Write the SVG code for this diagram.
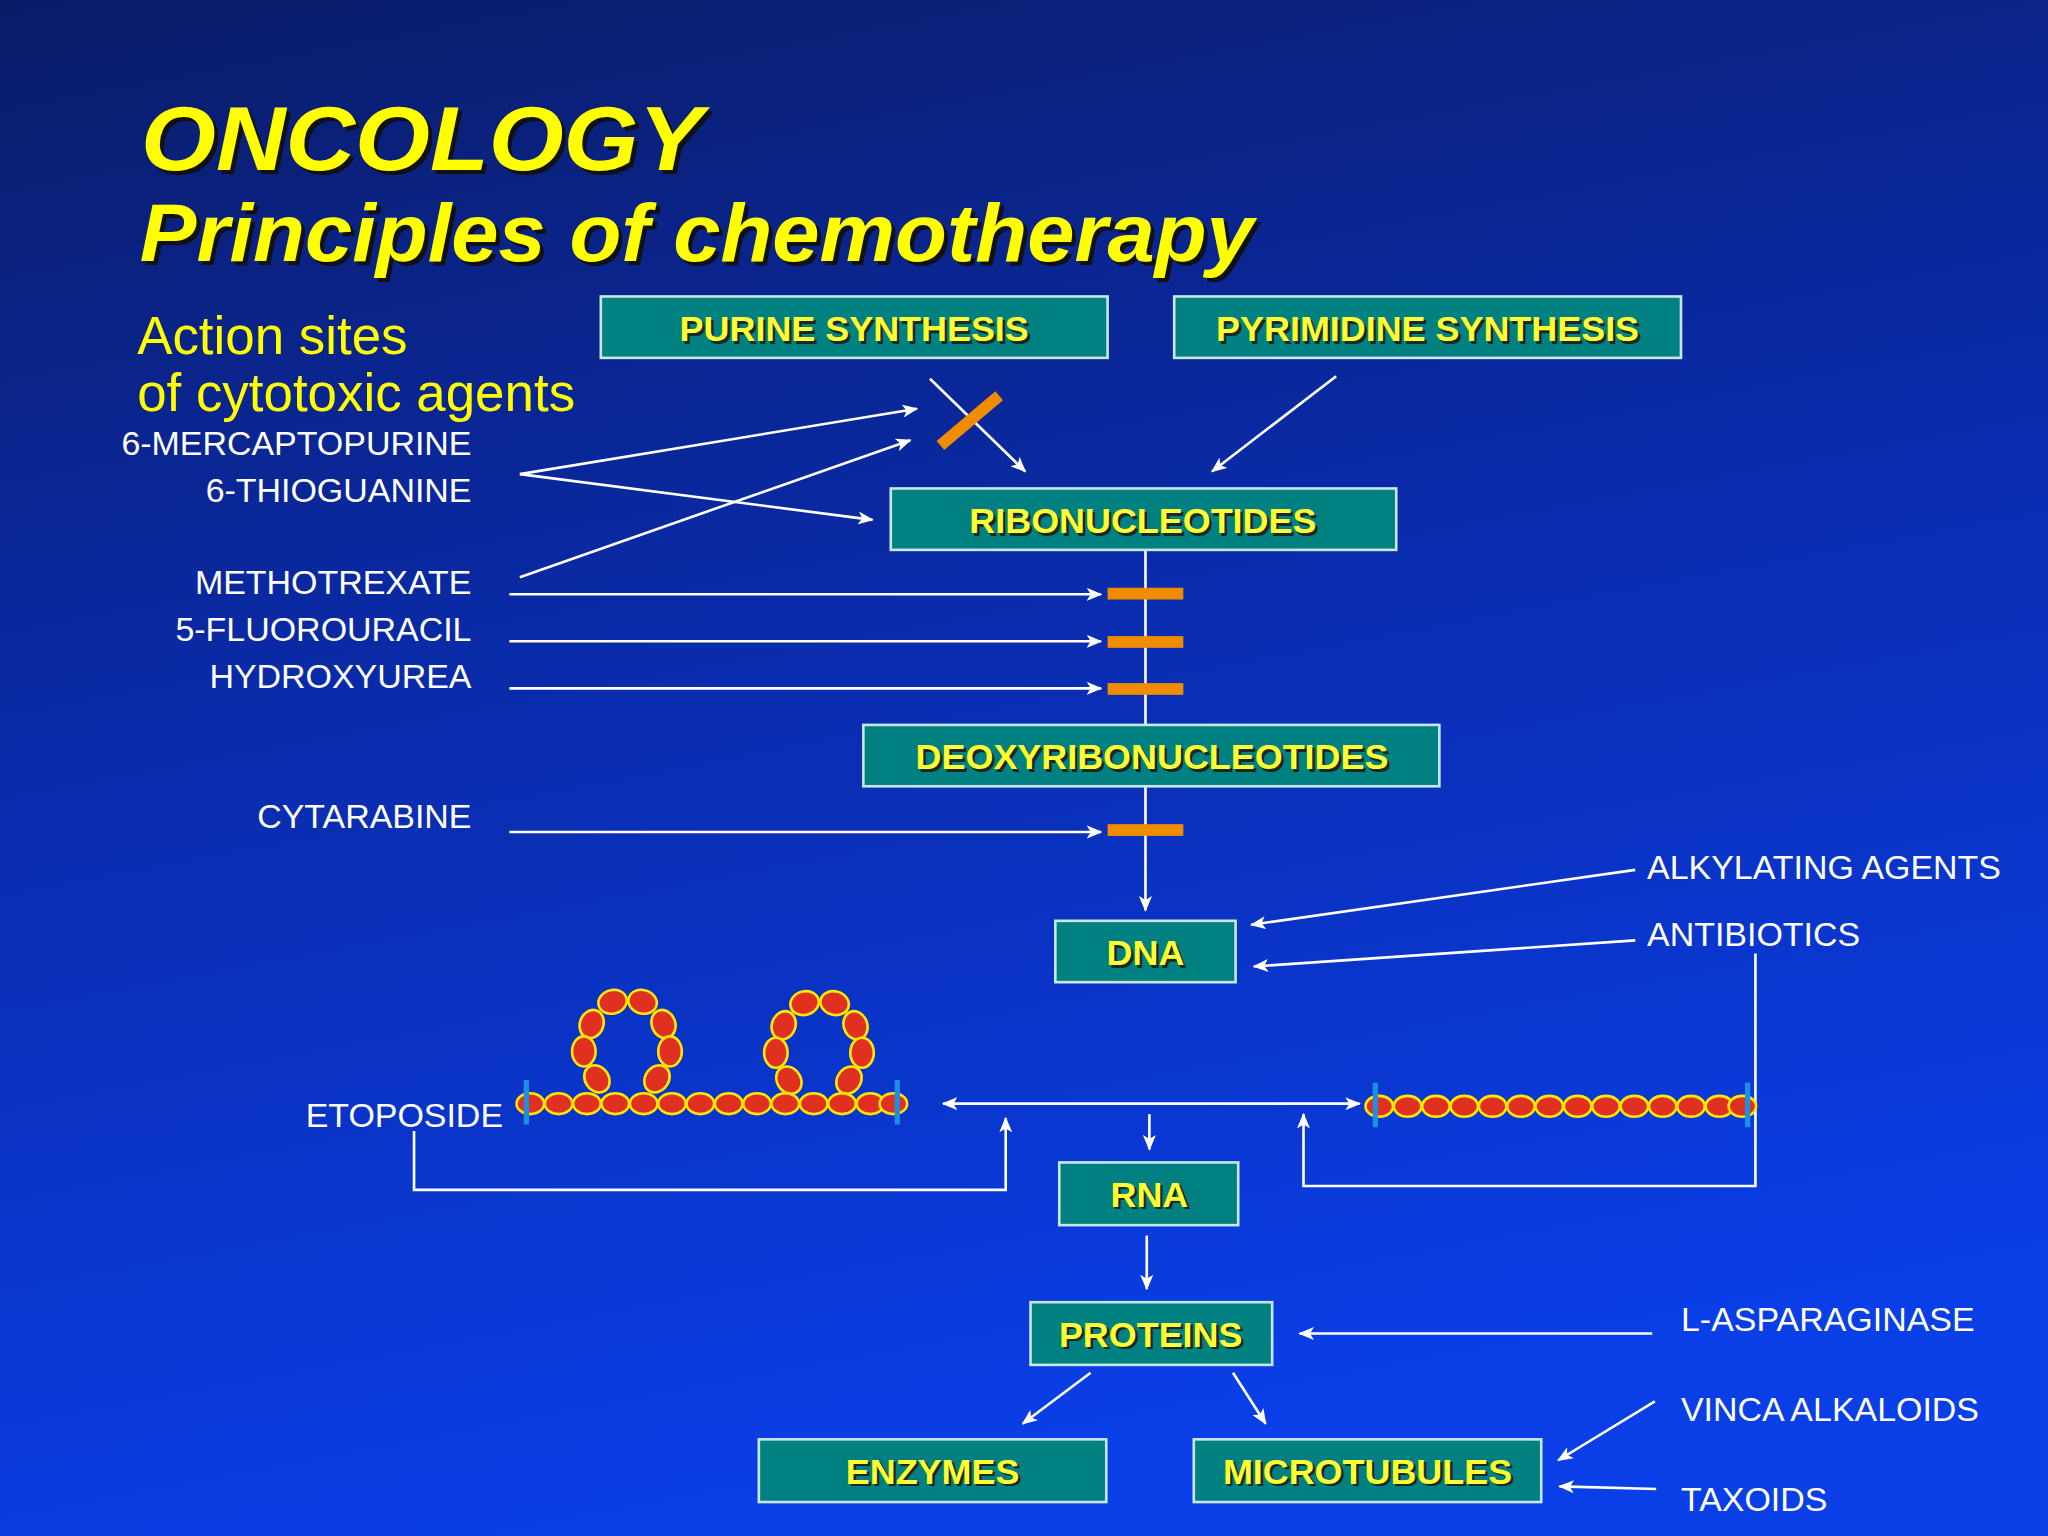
<svg xmlns="http://www.w3.org/2000/svg" width="2048" height="1536" viewBox="0 0 2048 1536">
<defs>
<linearGradient id="bg" x1="0" y1="0" x2="0.25" y2="1">
<stop offset="0" stop-color="#0a1c68"/>
<stop offset="0.5" stop-color="#0a2cae"/>
<stop offset="1" stop-color="#0a3ee6"/>
</linearGradient>
<marker id="ah" viewBox="0 0 12 10" refX="11" refY="5" markerWidth="12" markerHeight="10" markerUnits="userSpaceOnUse" orient="auto-start-reverse">
<path d="M0,0 L12,5 L0,10 L3,5 Z" fill="#fff"/>
</marker>
<ellipse id="b" rx="10.5" ry="8" fill="#e03020" stroke="#ffe800" stroke-width="2"/>
<g id="chain">
<use href="#b" x="0"/><use href="#b" x="21.7"/><use href="#b" x="43.4"/><use href="#b" x="65.1"/><use href="#b" x="86.8"/><use href="#b" x="108.5"/><use href="#b" x="130.2"/><use href="#b" x="151.9"/><use href="#b" x="173.6"/><use href="#b" x="195.3"/><use href="#b" x="217"/><use href="#b" x="238.7"/><use href="#b" x="260.4"/><use href="#b" x="278"/>
</g>
<g id="loop" fill="#e03020" stroke="#ffe800" stroke-width="2">
<ellipse rx="11" ry="9" transform="translate(-11,-30) rotate(-15)"/>
<ellipse rx="11" ry="9" transform="translate(12,-30) rotate(15)"/>
<ellipse rx="9" ry="11" transform="translate(-27,-13) rotate(20)"/>
<ellipse rx="9" ry="11" transform="translate(28,-13) rotate(-20)"/>
<ellipse rx="9" ry="11.5" transform="translate(-33,8)"/>
<ellipse rx="9" ry="11.5" transform="translate(33,8)"/>
<ellipse rx="9" ry="11" transform="translate(-23,29) rotate(-35)"/>
<ellipse rx="9" ry="11" transform="translate(23,29) rotate(35)"/>
</g>
</defs>
<style>
.box{fill:#008080;stroke:#c8e8e8;stroke-width:2}
.bt{font-family:"Liberation Sans",Arial,sans-serif;font-weight:bold;font-size:27.5px;fill:#ffff33;text-anchor:middle}
.bs{font-family:"Liberation Sans",Arial,sans-serif;font-weight:bold;font-size:27.5px;fill:#1a2a20;text-anchor:middle}
.lb{font-family:"Liberation Sans",Arial,sans-serif;font-size:26px;fill:#fff}
.r{text-anchor:end}
.ln{stroke:#fff;stroke-width:2;fill:none}
.ar{marker-end:url(#ah)}
.or{fill:#f08c00}
.bar{fill:#1e90e0}
</style>
<rect width="2048" height="1536" fill="url(#bg)"/>
<g transform="scale(1.30612)">
<g id="title" font-family="'Liberation Sans',Arial,sans-serif" font-weight="bold" font-style="italic">
<text x="111" y="133" font-size="70" fill="#111" textLength="430" lengthAdjust="spacingAndGlyphs">ONCOLOGY</text>
<text x="108" y="130" font-size="70" fill="#ffff00" textLength="430" lengthAdjust="spacingAndGlyphs">ONCOLOGY</text>
<text x="110" y="203" font-size="62" fill="#111" textLength="853" lengthAdjust="spacingAndGlyphs">Principles of chemotherapy</text>
<text x="107" y="200" font-size="62" fill="#ffff00" textLength="853" lengthAdjust="spacingAndGlyphs">Principles of chemotherapy</text>
</g>
<g id="subtitle" font-family="'Liberation Sans',Arial,sans-serif" font-size="40.5" fill="#ffff00">
<text x="105" y="271">Action sites</text>
<text x="105" y="315">of cytotoxic agents</text>
</g>
<g id="connectors">
<line class="ln" x1="877" y1="421" x2="877" y2="555"/>
<line class="ln ar" x1="877" y1="602" x2="877" y2="697"/>
<line class="ln ar" x1="712" y1="290" x2="785" y2="361"/>
<line class="ln ar" x1="1023" y1="288" x2="928" y2="361"/>
<line class="ln ar" x1="398" y1="363" x2="702" y2="313"/>
<line class="ln ar" x1="398" y1="363" x2="668" y2="398"/>
<line class="ln ar" x1="398" y1="442" x2="697" y2="337"/>
<line class="ln ar" x1="390" y1="455" x2="843" y2="455"/>
<line class="ln ar" x1="390" y1="491" x2="843" y2="491"/>
<line class="ln ar" x1="390" y1="527" x2="843" y2="527"/>
<line class="ln ar" x1="390" y1="637" x2="843" y2="637"/>
<line class="ln ar" x1="1252" y1="666" x2="958" y2="708"/>
<line class="ln ar" x1="1252" y1="720" x2="960" y2="740"/>
<polyline class="ln ar" points="1344,730 1344,908 998,908 998,853"/>
<polyline class="ln ar" points="317,866 317,911 770,911 770,856"/>
<line class="ln ar" x1="722" y1="845" x2="1041" y2="845" style="marker-start:url(#ah)"/>
<line class="ln ar" x1="880" y1="853" x2="880" y2="880"/>
<line class="ln ar" x1="878" y1="946" x2="878" y2="987"/>
<line class="ln ar" x1="1265" y1="1021" x2="995" y2="1021"/>
<line class="ln ar" x1="835" y1="1051" x2="783" y2="1090"/>
<line class="ln ar" x1="944" y1="1051" x2="969" y2="1090"/>
<line class="ln ar" x1="1267" y1="1073" x2="1193" y2="1118"/>
<line class="ln ar" x1="1268" y1="1140" x2="1194" y2="1138"/>
</g>
<g id="blocks">
<rect class="or" x="848" y="450" width="58" height="9"/>
<rect class="or" x="848" y="487" width="58" height="9"/>
<rect class="or" x="848" y="523" width="58" height="9"/>
<rect class="or" x="848" y="631" width="58" height="9"/>
<line x1="720" y1="341" x2="765" y2="303" stroke="#f08c00" stroke-width="9"/>
</g>
<g id="purine"><rect class="box" x="460" y="227" width="388" height="47"/><text class="bs" x="656" y="263">PURINE SYNTHESIS</text><text class="bt" x="654" y="261">PURINE SYNTHESIS</text></g>
<g id="pyrimidine"><rect class="box" x="899" y="227" width="388" height="47"/><text class="bs" x="1095" y="263">PYRIMIDINE SYNTHESIS</text><text class="bt" x="1093" y="261">PYRIMIDINE SYNTHESIS</text></g>
<g id="ribo"><rect class="box" x="682" y="374" width="387" height="47"/><text class="bs" x="877" y="410">RIBONUCLEOTIDES</text><text class="bt" x="875" y="408">RIBONUCLEOTIDES</text></g>
<g id="deoxy"><rect class="box" x="661" y="555" width="441" height="47"/><text class="bs" x="884" y="591">DEOXYRIBONUCLEOTIDES</text><text class="bt" x="882" y="589">DEOXYRIBONUCLEOTIDES</text></g>
<g id="dna"><rect class="box" x="808" y="705" width="138" height="47"/><text class="bs" x="879" y="741">DNA</text><text class="bt" x="877" y="739">DNA</text></g>
<g id="rna"><rect class="box" x="811" y="890" width="137" height="48"/><text class="bs" x="882" y="926">RNA</text><text class="bt" x="880" y="924">RNA</text></g>
<g id="proteins"><rect class="box" x="789" y="997" width="185" height="48"/><text class="bs" x="883" y="1033">PROTEINS</text><text class="bt" x="881" y="1031">PROTEINS</text></g>
<g id="enzymes"><rect class="box" x="581" y="1102" width="266" height="48"/><text class="bs" x="716" y="1138">ENZYMES</text><text class="bt" x="714" y="1136">ENZYMES</text></g>
<g id="microtubules"><rect class="box" x="914" y="1102" width="266" height="48"/><text class="bs" x="1049" y="1138">MICROTUBULES</text><text class="bt" x="1047" y="1136">MICROTUBULES</text></g>
<g id="strand-left">
<use href="#loop" x="480" y="797"/>
<use href="#loop" x="627" y="798"/>
<use href="#chain" x="406" y="845"/>
<rect class="bar" x="401" y="827" width="4" height="34"/>
<rect class="bar" x="685" y="827" width="4" height="34"/>
</g>
<g id="strand-right">
<use href="#chain" x="1056" y="847"/>
<rect class="bar" x="1051" y="829" width="4" height="34"/>
<rect class="bar" x="1336" y="829" width="4" height="34"/>
</g>
<g id="labels">
<text class="lb r" x="361" y="348">6-MERCAPTOPURINE</text>
<text class="lb r" x="361" y="384">6-THIOGUANINE</text>
<text class="lb r" x="361" y="455">METHOTREXATE</text>
<text class="lb r" x="361" y="491">5-FLUOROURACIL</text>
<text class="lb r" x="361" y="527">HYDROXYUREA</text>
<text class="lb r" x="361" y="634">CYTARABINE</text>
<text class="lb" x="234" y="863">ETOPOSIDE</text>
<text class="lb" x="1261" y="673">ALKYLATING AGENTS</text>
<text class="lb" x="1261" y="724">ANTIBIOTICS</text>
<text class="lb" x="1287" y="1019">L-ASPARAGINASE</text>
<text class="lb" x="1287" y="1088">VINCA ALKALOIDS</text>
<text class="lb" x="1287" y="1157">TAXOIDS</text>
</g>
</g>
</svg>
